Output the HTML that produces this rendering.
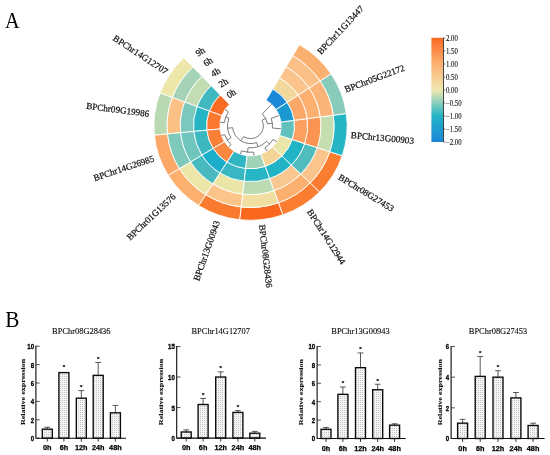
<!DOCTYPE html>
<html><head><meta charset="utf-8"><title>Figure</title><style>html,body{margin:0;padding:0;background:#fff}body{width:550px;height:455px;position:relative;overflow:hidden}</style></head><body>
<svg width="550" height="455" viewBox="0 0 550 455" style="position:absolute;left:0;top:0">
<defs><pattern id="dots" width="2" height="2" patternUnits="userSpaceOnUse"><rect width="2" height="2" fill="#f5f5f5"/><rect x="0" y="0" width="1" height="1" fill="#c2c2c2"/></pattern>
<linearGradient id="cb" x1="0" y1="0" x2="0" y2="1"><stop offset="0" stop-color="#FA6820"/><stop offset="0.25" stop-color="#FDB070"/><stop offset="0.5" stop-color="#F0E8B0"/><stop offset="0.75" stop-color="#22B4C6"/><stop offset="1" stop-color="#1B86D8"/></linearGradient></defs>
<rect width="550" height="455" fill="#fff"/>
<g stroke="#fff" stroke-width="0.9">
<path d="M183.90,57.69 A96.65,94.33 0 0 0 159.96,93.12 L172.33,97.61 A83.45,81.45 0 0 1 193.00,67.02 Z" fill="#EDE7A9"/>
<path d="M193.00,67.02 A83.45,81.45 0 0 0 172.33,97.61 L184.71,102.10 A70.25,68.56 0 0 1 202.10,76.35 Z" fill="#A5D3B8"/>
<path d="M202.10,76.35 A70.25,68.56 0 0 0 184.71,102.10 L197.08,106.59 A57.05,55.68 0 0 1 211.21,85.68 Z" fill="#C3DDB2"/>
<path d="M211.21,85.68 A57.05,55.68 0 0 0 197.08,106.59 L209.45,111.08 A43.85,42.80 0 0 1 220.31,95.01 Z" fill="#3FB8C0"/>
<path d="M220.31,95.01 A43.85,42.80 0 0 0 209.45,111.08 L221.82,115.57 A30.65,29.91 0 0 1 229.41,104.34 Z" fill="#F96B23"/>
<path d="M159.96,93.12 A96.65,94.33 0 0 0 154.36,135.21 L167.50,133.95 A83.45,81.45 0 0 1 172.33,97.61 Z" fill="#B9D9B3"/>
<path d="M172.33,97.61 A83.45,81.45 0 0 0 167.50,133.95 L180.64,132.69 A70.25,68.56 0 0 1 184.71,102.10 Z" fill="#FBC084"/>
<path d="M184.71,102.10 A70.25,68.56 0 0 0 180.64,132.69 L193.77,131.43 A57.05,55.68 0 0 1 197.08,106.59 Z" fill="#7CC8BC"/>
<path d="M197.08,106.59 A57.05,55.68 0 0 0 193.77,131.43 L206.91,130.18 A43.85,42.80 0 0 1 209.45,111.08 Z" fill="#25B5C5"/>
<path d="M209.45,111.08 A43.85,42.80 0 0 0 206.91,130.18 L220.05,128.92 A30.65,29.91 0 0 1 221.82,115.57 Z" fill="#FA7830"/>
<path d="M154.36,135.21 A96.65,94.33 0 0 0 168.23,175.43 L179.47,168.68 A83.45,81.45 0 0 1 167.50,133.95 Z" fill="#FBA868"/>
<path d="M167.50,133.95 A83.45,81.45 0 0 0 179.47,168.68 L190.72,161.93 A70.25,68.56 0 0 1 180.64,132.69 Z" fill="#7FC9BB"/>
<path d="M180.64,132.69 A70.25,68.56 0 0 0 190.72,161.93 L201.96,155.18 A57.05,55.68 0 0 1 193.77,131.43 Z" fill="#70C5BC"/>
<path d="M193.77,131.43 A57.05,55.68 0 0 0 201.96,155.18 L213.20,148.43 A43.85,42.80 0 0 1 206.91,130.18 Z" fill="#3DB8C1"/>
<path d="M206.91,130.18 A43.85,42.80 0 0 0 213.20,148.43 L224.44,141.67 A30.65,29.91 0 0 1 220.05,128.92 Z" fill="#FA8038"/>
<path d="M168.23,175.43 A96.65,94.33 0 0 0 198.76,205.65 L205.84,194.77 A83.45,81.45 0 0 1 179.47,168.68 Z" fill="#FBB070"/>
<path d="M179.47,168.68 A83.45,81.45 0 0 0 205.84,194.77 L212.91,183.89 A70.25,68.56 0 0 1 190.72,161.93 Z" fill="#ECE6A9"/>
<path d="M190.72,161.93 A70.25,68.56 0 0 0 212.91,183.89 L219.98,173.01 A57.05,55.68 0 0 1 201.96,155.18 Z" fill="#48BABF"/>
<path d="M201.96,155.18 A57.05,55.68 0 0 0 219.98,173.01 L227.05,162.14 A43.85,42.80 0 0 1 213.20,148.43 Z" fill="#1AAECB"/>
<path d="M213.20,148.43 A43.85,42.80 0 0 0 227.05,162.14 L234.13,151.26 A30.65,29.91 0 0 1 224.44,141.67 Z" fill="#FA8840"/>
<path d="M198.76,205.65 A96.65,94.33 0 0 0 239.78,219.74 L241.25,206.94 A83.45,81.45 0 0 1 205.84,194.77 Z" fill="#FA7A30"/>
<path d="M205.84,194.77 A83.45,81.45 0 0 0 241.25,206.94 L242.72,194.14 A70.25,68.56 0 0 1 212.91,183.89 Z" fill="#FBC488"/>
<path d="M212.91,183.89 A70.25,68.56 0 0 0 242.72,194.14 L244.19,181.33 A57.05,55.68 0 0 1 219.98,173.01 Z" fill="#EBE5A8"/>
<path d="M219.98,173.01 A57.05,55.68 0 0 0 244.19,181.33 L245.66,168.53 A43.85,42.80 0 0 1 227.05,162.14 Z" fill="#38B7C2"/>
<path d="M227.05,162.14 A43.85,42.80 0 0 0 245.66,168.53 L247.13,155.73 A30.65,29.91 0 0 1 234.13,151.26 Z" fill="#30B6C3"/>
<path d="M239.78,219.74 A96.65,94.33 0 0 0 282.97,214.86 L278.54,202.73 A83.45,81.45 0 0 1 241.25,206.94 Z" fill="#FA6820"/>
<path d="M241.25,206.94 A83.45,81.45 0 0 0 278.54,202.73 L274.12,190.59 A70.25,68.56 0 0 1 242.72,194.14 Z" fill="#F0DFA0"/>
<path d="M242.72,194.14 A70.25,68.56 0 0 0 274.12,190.59 L269.69,178.45 A57.05,55.68 0 0 1 244.19,181.33 Z" fill="#BDDBB2"/>
<path d="M244.19,181.33 A57.05,55.68 0 0 0 269.69,178.45 L265.26,166.32 A43.85,42.80 0 0 1 245.66,168.53 Z" fill="#28B5C4"/>
<path d="M245.66,168.53 A43.85,42.80 0 0 0 265.26,166.32 L260.83,154.18 A30.65,29.91 0 0 1 247.13,155.73 Z" fill="#A0D2B8"/>
<path d="M282.97,214.86 A96.65,94.33 0 0 0 319.60,192.00 L310.17,182.99 A83.45,81.45 0 0 1 278.54,202.73 Z" fill="#FA7D32"/>
<path d="M278.54,202.73 A83.45,81.45 0 0 0 310.17,182.99 L300.74,173.97 A70.25,68.56 0 0 1 274.12,190.59 Z" fill="#FBB070"/>
<path d="M274.12,190.59 A70.25,68.56 0 0 0 300.74,173.97 L291.31,164.96 A57.05,55.68 0 0 1 269.69,178.45 Z" fill="#F8C890"/>
<path d="M269.69,178.45 A57.05,55.68 0 0 0 291.31,164.96 L281.88,155.94 A43.85,42.80 0 0 1 265.26,166.32 Z" fill="#20B4C6"/>
<path d="M265.26,166.32 A43.85,42.80 0 0 0 281.88,155.94 L272.45,146.93 A30.65,29.91 0 0 1 260.83,154.18 Z" fill="#F5D498"/>
<path d="M319.60,192.00 A96.65,94.33 0 0 0 342.26,155.78 L329.73,151.71 A83.45,81.45 0 0 1 310.17,182.99 Z" fill="#FA7D32"/>
<path d="M310.17,182.99 A83.45,81.45 0 0 0 329.73,151.71 L317.21,147.64 A70.25,68.56 0 0 1 300.74,173.97 Z" fill="#FAC48C"/>
<path d="M300.74,173.97 A70.25,68.56 0 0 0 317.21,147.64 L304.68,143.58 A57.05,55.68 0 0 1 291.31,164.96 Z" fill="#50BCBE"/>
<path d="M291.31,164.96 A57.05,55.68 0 0 0 304.68,143.58 L292.16,139.51 A43.85,42.80 0 0 1 281.88,155.94 Z" fill="#20B4C6"/>
<path d="M281.88,155.94 A43.85,42.80 0 0 0 292.16,139.51 L279.63,135.44 A30.65,29.91 0 0 1 272.45,146.93 Z" fill="#EAE5A8"/>
<path d="M342.26,155.78 A96.65,94.33 0 0 0 346.35,113.52 L333.27,115.23 A83.45,81.45 0 0 1 329.73,151.71 Z" fill="#25B5C5"/>
<path d="M329.73,151.71 A83.45,81.45 0 0 0 333.27,115.23 L320.18,116.93 A70.25,68.56 0 0 1 317.21,147.64 Z" fill="#C5DEB0"/>
<path d="M317.21,147.64 A70.25,68.56 0 0 0 320.18,116.93 L307.10,118.64 A57.05,55.68 0 0 1 304.68,143.58 Z" fill="#FB9450"/>
<path d="M304.68,143.58 A57.05,55.68 0 0 0 307.10,118.64 L294.01,120.34 A43.85,42.80 0 0 1 292.16,139.51 Z" fill="#FBA060"/>
<path d="M292.16,139.51 A43.85,42.80 0 0 0 294.01,120.34 L280.93,122.04 A30.65,29.91 0 0 1 279.63,135.44 Z" fill="#60C0BD"/>
<path d="M346.35,113.52 A96.65,94.33 0 0 0 331.05,73.80 L320.06,80.93 A83.45,81.45 0 0 1 333.27,115.23 Z" fill="#88CBBA"/>
<path d="M333.27,115.23 A83.45,81.45 0 0 0 320.06,80.93 L309.06,88.06 A70.25,68.56 0 0 1 320.18,116.93 Z" fill="#FBB478"/>
<path d="M320.18,116.93 A70.25,68.56 0 0 0 309.06,88.06 L298.07,95.19 A57.05,55.68 0 0 1 307.10,118.64 Z" fill="#FBB070"/>
<path d="M307.10,118.64 A57.05,55.68 0 0 0 298.07,95.19 L287.07,102.32 A43.85,42.80 0 0 1 294.01,120.34 Z" fill="#FBA868"/>
<path d="M294.01,120.34 A43.85,42.80 0 0 0 287.07,102.32 L276.08,109.45 A30.65,29.91 0 0 1 280.93,122.04 Z" fill="#1A9AD0"/>
<path d="M331.05,73.80 A96.65,94.33 0 0 0 299.46,44.64 L292.78,55.75 A83.45,81.45 0 0 1 320.06,80.93 Z" fill="#FBB070"/>
<path d="M320.06,80.93 A83.45,81.45 0 0 0 292.78,55.75 L286.10,66.86 A70.25,68.56 0 0 1 309.06,88.06 Z" fill="#FAC088"/>
<path d="M309.06,88.06 A70.25,68.56 0 0 0 286.10,66.86 L279.42,77.97 A57.05,55.68 0 0 1 298.07,95.19 Z" fill="#FAC48C"/>
<path d="M298.07,95.19 A57.05,55.68 0 0 0 279.42,77.97 L272.74,89.09 A43.85,42.80 0 0 1 287.07,102.32 Z" fill="#F3D89C"/>
<path d="M287.07,102.32 A43.85,42.80 0 0 0 272.74,89.09 L266.06,100.20 A30.65,29.91 0 0 1 276.08,109.45 Z" fill="#1B88D8"/>
</g>
<g font-family="'Liberation Serif', serif" font-size="9.15" fill="#111" stroke="#111" stroke-width="0.22">
<text x="166.94" y="72.19" text-anchor="end" dominant-baseline="central" transform="rotate(33.40 166.94 72.19)">BPChr14G12707</text>
<text x="149.23" y="113.91" text-anchor="end" dominant-baseline="central" transform="rotate(7.40 149.23 113.91)">BPChr09G19986</text>
<text x="153.83" y="158.18" text-anchor="end" dominant-baseline="central" transform="rotate(-18.60 153.83 158.18)">BPChr14G26985</text>
<text x="174.24" y="195.13" text-anchor="end" dominant-baseline="central" transform="rotate(-43.40 174.24 195.13)">BPChr01G13576</text>
<text x="217.28" y="220.80" text-anchor="end" dominant-baseline="central" transform="rotate(-70.60 217.28 220.80)">BPChr13G00943</text>
<text x="262.06" y="224.70" text-anchor="start" dominant-baseline="central" transform="rotate(-276.60 262.06 224.70)">BPChr08G28436</text>
<text x="309.31" y="210.15" text-anchor="start" dominant-baseline="central" transform="rotate(-302.60 309.31 210.15)">BPChr14G12944</text>
<text x="339.03" y="176.33" text-anchor="start" dominant-baseline="central" transform="rotate(-328.60 339.03 176.33)">BPChr08G27453</text>
<text x="350.86" y="134.90" text-anchor="start" dominant-baseline="central" transform="rotate(-354.60 350.86 134.90)">BPChr13G00903</text>
<text x="345.00" y="89.81" text-anchor="start" dominant-baseline="central" transform="rotate(-380.60 345.00 89.81)">BPChr05G22172</text>
<text x="318.86" y="52.98" text-anchor="start" dominant-baseline="central" transform="rotate(-406.60 318.86 52.98)">BPChr11G13447</text>
</g>
<g font-family="'Liberation Serif', serif" font-size="9.2" fill="#111" stroke="#111" stroke-width="0.22">
<text x="200.2" y="51.8" text-anchor="middle" dominant-baseline="central" transform="rotate(-32 200.2 51.8)">9h</text>
<text x="208.0" y="61.8" text-anchor="middle" dominant-baseline="central" transform="rotate(-32 208.0 61.8)">6h</text>
<text x="215.6" y="72.3" text-anchor="middle" dominant-baseline="central" transform="rotate(-32 215.6 72.3)">4h</text>
<text x="223.4" y="82.8" text-anchor="middle" dominant-baseline="central" transform="rotate(-32 223.4 82.8)">2h</text>
<text x="231.2" y="93.4" text-anchor="middle" dominant-baseline="central" transform="rotate(-32 231.2 93.4)">0h</text>
</g>
<path d="M224.96,109.53 L228.43,111.76 M220.16,122.15 L224.27,122.67 M228.43,111.76 A26.50,25.86 0 0 0 224.27,122.67 M221.50,135.54 L224.58,134.53 M228.73,147.00 L231.04,144.78 M224.58,134.53 A27.40,26.74 0 0 0 231.04,144.78 M225.71,116.98 L228.99,118.18 M227.21,140.01 L230.96,137.76 M228.99,118.18 A23.00,22.45 0 0 0 230.96,137.76 M240.37,154.22 L241.58,150.86 M254.07,155.72 L253.65,152.18 M241.58,150.86 A27.00,26.35 0 0 0 253.65,152.18 M267.06,151.20 L264.83,147.79 M276.71,141.59 L273.17,139.48 M264.83,147.79 A26.50,25.86 0 0 0 273.17,139.48 M247.54,152.19 L248.05,147.73 M269.48,144.10 L266.55,141.30 M248.05,147.73 A22.40,21.86 0 0 0 266.55,141.30 M227.66,128.19 L232.64,127.71 M258.06,146.60 L256.59,142.55 M232.64,127.71 A18.00,17.57 0 0 0 256.59,142.55 M281.06,128.82 L272.45,128.02 M279.24,115.47 L271.14,118.45 M272.45,128.02 A22.00,21.47 0 0 0 271.14,118.45 M272.36,123.16 L267.40,123.81 M271.61,104.26 L262.23,113.94 M267.40,123.81 A17.00,16.59 0 0 0 262.23,113.94 M240.91,140.83 L243.64,136.63 M265.68,118.44 L262.03,120.26 M243.64,136.63 A12.90,12.59 0 0 0 262.03,120.26" fill="none" stroke="#444" stroke-width="0.7"/>
<rect x="431.4" y="37.8" width="12" height="104.2" fill="url(#cb)"/>
<path d="M443.5,37.8 V142" stroke="#333" stroke-width="0.9"/>
<g font-family="'Liberation Serif', serif" font-size="8.3" fill="#111" stroke="#111" stroke-width="0.12">
<path d="M443.5,38.00 h1.8" stroke="#333" stroke-width="0.7"/>
<text transform="translate(445.9 38.60) scale(0.82 1)" dominant-baseline="central">2.00</text>
<path d="M443.5,51.00 h1.8" stroke="#333" stroke-width="0.7"/>
<text transform="translate(445.9 51.60) scale(0.82 1)" dominant-baseline="central">1.50</text>
<path d="M443.5,64.00 h1.8" stroke="#333" stroke-width="0.7"/>
<text transform="translate(445.9 64.60) scale(0.82 1)" dominant-baseline="central">1.00</text>
<path d="M443.5,77.00 h1.8" stroke="#333" stroke-width="0.7"/>
<text transform="translate(445.9 77.60) scale(0.82 1)" dominant-baseline="central">0.50</text>
<path d="M443.5,90.00 h1.8" stroke="#333" stroke-width="0.7"/>
<text transform="translate(445.9 90.60) scale(0.82 1)" dominant-baseline="central">0.00</text>
<path d="M443.5,103.00 h1.8" stroke="#333" stroke-width="0.7"/>
<text transform="translate(445.9 103.60) scale(0.82 1)" dominant-baseline="central">−0.50</text>
<path d="M443.5,116.00 h1.8" stroke="#333" stroke-width="0.7"/>
<text transform="translate(445.9 116.60) scale(0.82 1)" dominant-baseline="central">−1.00</text>
<path d="M443.5,129.00 h1.8" stroke="#333" stroke-width="0.7"/>
<text transform="translate(445.9 129.60) scale(0.82 1)" dominant-baseline="central">−1.50</text>
<path d="M443.5,142.00 h1.8" stroke="#333" stroke-width="0.7"/>
<text transform="translate(445.9 142.60) scale(0.82 1)" dominant-baseline="central">−2.00</text>
</g>
<text transform="translate(5.0 28) scale(0.9 1)" font-family="'Liberation Serif', serif" font-size="22.5" fill="#000">A</text>
<text transform="translate(5.2 326.6) scale(0.925 1)" font-family="'Liberation Serif', serif" font-size="23" fill="#000">B</text>
<text transform="translate(81.3 334.1) scale(0.935 1)" text-anchor="middle" font-family="'Liberation Serif', serif" font-size="9" fill="#111" stroke="#111" stroke-width="0.15">BPChr08G28436</text>
<path d="M47.3,429.18 V427.25 M44.4,427.25 h5.8" stroke="#222" stroke-width="0.75" fill="none"/>
<rect x="42.30" y="429.18" width="10.0" height="9.02" fill="url(#dots)" stroke="#0a0a0a" stroke-width="1.35"/>
<rect x="58.90" y="372.60" width="10.0" height="65.60" fill="url(#dots)" stroke="#0a0a0a" stroke-width="1.35"/>
<text x="63.9" y="369.00" text-anchor="middle" font-family="'Liberation Sans', sans-serif" font-size="6.2" font-weight="bold" fill="#111" stroke="#111" stroke-width="0.25">*</text>
<path d="M81.3,398.18 V390.64 M78.39999999999999,390.64 h5.8" stroke="#222" stroke-width="0.75" fill="none"/>
<rect x="76.30" y="398.18" width="10.0" height="40.02" fill="url(#dots)" stroke="#0a0a0a" stroke-width="1.35"/>
<text x="81.3" y="389.04" text-anchor="middle" font-family="'Liberation Sans', sans-serif" font-size="6.2" font-weight="bold" fill="#111" stroke="#111" stroke-width="0.25">*</text>
<path d="M98.2,375.36 V362.48 M95.3,362.48 h5.8" stroke="#222" stroke-width="0.75" fill="none"/>
<rect x="93.20" y="375.36" width="10.0" height="62.84" fill="url(#dots)" stroke="#0a0a0a" stroke-width="1.35"/>
<text x="98.2" y="360.88" text-anchor="middle" font-family="'Liberation Sans', sans-serif" font-size="6.2" font-weight="bold" fill="#111" stroke="#111" stroke-width="0.25">*</text>
<path d="M115.4,412.81 V405.45 M112.5,405.45 h5.8" stroke="#222" stroke-width="0.75" fill="none"/>
<rect x="110.40" y="412.81" width="10.0" height="25.39" fill="url(#dots)" stroke="#0a0a0a" stroke-width="1.35"/>
<path d="M35.9,345.7 V438.2 H126" stroke="#0a0a0a" stroke-width="1.1" fill="none"/>
<path d="M35.9,438.20 h3.8" stroke="#222" stroke-width="0.8"/>
<text transform="translate(34.00 438.50) scale(0.88 1)" text-anchor="end" dominant-baseline="central" font-family="'Liberation Sans', sans-serif" font-size="6.9" font-weight="bold" fill="#000" stroke="#000" stroke-width="0.3">0</text>
<path d="M35.9,419.80 h3.8" stroke="#222" stroke-width="0.8"/>
<text transform="translate(34.00 420.10) scale(0.88 1)" text-anchor="end" dominant-baseline="central" font-family="'Liberation Sans', sans-serif" font-size="6.9" font-weight="bold" fill="#000" stroke="#000" stroke-width="0.3">2</text>
<path d="M35.9,401.40 h3.8" stroke="#222" stroke-width="0.8"/>
<text transform="translate(34.00 401.70) scale(0.88 1)" text-anchor="end" dominant-baseline="central" font-family="'Liberation Sans', sans-serif" font-size="6.9" font-weight="bold" fill="#000" stroke="#000" stroke-width="0.3">4</text>
<path d="M35.9,383.00 h3.8" stroke="#222" stroke-width="0.8"/>
<text transform="translate(34.00 383.30) scale(0.88 1)" text-anchor="end" dominant-baseline="central" font-family="'Liberation Sans', sans-serif" font-size="6.9" font-weight="bold" fill="#000" stroke="#000" stroke-width="0.3">6</text>
<path d="M35.9,364.60 h3.8" stroke="#222" stroke-width="0.8"/>
<text transform="translate(34.00 364.90) scale(0.88 1)" text-anchor="end" dominant-baseline="central" font-family="'Liberation Sans', sans-serif" font-size="6.9" font-weight="bold" fill="#000" stroke="#000" stroke-width="0.3">8</text>
<path d="M35.9,346.20 h3.8" stroke="#222" stroke-width="0.8"/>
<text transform="translate(34.00 346.50) scale(0.88 1)" text-anchor="end" dominant-baseline="central" font-family="'Liberation Sans', sans-serif" font-size="6.9" font-weight="bold" fill="#000" stroke="#000" stroke-width="0.3">10</text>
<path d="M47.3,438.2 v3.4" stroke="#222" stroke-width="0.9"/>
<text x="47.3" y="450.20" text-anchor="middle" font-family="'Liberation Sans', sans-serif" font-size="7.3" font-weight="bold" fill="#000" stroke="#000" stroke-width="0.25">0h</text>
<path d="M63.9,438.2 v3.4" stroke="#222" stroke-width="0.9"/>
<text x="63.9" y="450.20" text-anchor="middle" font-family="'Liberation Sans', sans-serif" font-size="7.3" font-weight="bold" fill="#000" stroke="#000" stroke-width="0.25">6h</text>
<path d="M81.3,438.2 v3.4" stroke="#222" stroke-width="0.9"/>
<text x="81.3" y="450.20" text-anchor="middle" font-family="'Liberation Sans', sans-serif" font-size="7.3" font-weight="bold" fill="#000" stroke="#000" stroke-width="0.25">12h</text>
<path d="M98.2,438.2 v3.4" stroke="#222" stroke-width="0.9"/>
<text x="98.2" y="450.20" text-anchor="middle" font-family="'Liberation Sans', sans-serif" font-size="7.3" font-weight="bold" fill="#000" stroke="#000" stroke-width="0.25">24h</text>
<path d="M115.4,438.2 v3.4" stroke="#222" stroke-width="0.9"/>
<text x="115.4" y="450.20" text-anchor="middle" font-family="'Liberation Sans', sans-serif" font-size="7.3" font-weight="bold" fill="#000" stroke="#000" stroke-width="0.25">48h</text>
<text transform="translate(22.3 391.9) rotate(-90) scale(1.13 1)" text-anchor="middle" dominant-baseline="central" font-family="'Liberation Serif', serif" font-size="7.15" font-weight="bold" fill="#111" stroke="#111" stroke-width="0.1">Relative expression</text>
<text transform="translate(220.7 334.1) scale(0.935 1)" text-anchor="middle" font-family="'Liberation Serif', serif" font-size="9" fill="#111" stroke="#111" stroke-width="0.15">BPChr14G12707</text>
<path d="M186.2,431.99 V429.86 M183.29999999999998,429.86 h5.8" stroke="#222" stroke-width="0.75" fill="none"/>
<rect x="181.20" y="431.99" width="10.0" height="6.11" fill="url(#dots)" stroke="#0a0a0a" stroke-width="1.35"/>
<path d="M203.1,404.51 V398.41 M200.2,398.41 h5.8" stroke="#222" stroke-width="0.75" fill="none"/>
<rect x="198.10" y="404.51" width="10.0" height="33.59" fill="url(#dots)" stroke="#0a0a0a" stroke-width="1.35"/>
<text x="203.1" y="396.81" text-anchor="middle" font-family="'Liberation Sans', sans-serif" font-size="6.2" font-weight="bold" fill="#111" stroke="#111" stroke-width="0.25">*</text>
<path d="M220.7,377.03 V371.84 M217.79999999999998,371.84 h5.8" stroke="#222" stroke-width="0.75" fill="none"/>
<rect x="215.70" y="377.03" width="10.0" height="61.07" fill="url(#dots)" stroke="#0a0a0a" stroke-width="1.35"/>
<text x="220.7" y="370.24" text-anchor="middle" font-family="'Liberation Sans', sans-serif" font-size="6.2" font-weight="bold" fill="#111" stroke="#111" stroke-width="0.25">*</text>
<path d="M237.9,412.45 V410.62 M235.0,410.62 h5.8" stroke="#222" stroke-width="0.75" fill="none"/>
<rect x="232.90" y="412.45" width="10.0" height="25.65" fill="url(#dots)" stroke="#0a0a0a" stroke-width="1.35"/>
<text x="237.9" y="409.02" text-anchor="middle" font-family="'Liberation Sans', sans-serif" font-size="6.2" font-weight="bold" fill="#111" stroke="#111" stroke-width="0.25">*</text>
<path d="M254.8,433.21 V431.38 M251.9,431.38 h5.8" stroke="#222" stroke-width="0.75" fill="none"/>
<rect x="249.80" y="433.21" width="10.0" height="4.89" fill="url(#dots)" stroke="#0a0a0a" stroke-width="1.35"/>
<path d="M176.7,346.0 V438.1 H266" stroke="#0a0a0a" stroke-width="1.1" fill="none"/>
<path d="M176.7,438.10 h3.8" stroke="#222" stroke-width="0.8"/>
<text transform="translate(174.80 438.40) scale(0.88 1)" text-anchor="end" dominant-baseline="central" font-family="'Liberation Sans', sans-serif" font-size="6.9" font-weight="bold" fill="#000" stroke="#000" stroke-width="0.3">0</text>
<path d="M176.7,407.57 h3.8" stroke="#222" stroke-width="0.8"/>
<text transform="translate(174.80 407.87) scale(0.88 1)" text-anchor="end" dominant-baseline="central" font-family="'Liberation Sans', sans-serif" font-size="6.9" font-weight="bold" fill="#000" stroke="#000" stroke-width="0.3">5</text>
<path d="M176.7,377.03 h3.8" stroke="#222" stroke-width="0.8"/>
<text transform="translate(174.80 377.33) scale(0.88 1)" text-anchor="end" dominant-baseline="central" font-family="'Liberation Sans', sans-serif" font-size="6.9" font-weight="bold" fill="#000" stroke="#000" stroke-width="0.3">10</text>
<path d="M176.7,346.50 h3.8" stroke="#222" stroke-width="0.8"/>
<text transform="translate(174.80 346.80) scale(0.88 1)" text-anchor="end" dominant-baseline="central" font-family="'Liberation Sans', sans-serif" font-size="6.9" font-weight="bold" fill="#000" stroke="#000" stroke-width="0.3">15</text>
<path d="M186.2,438.1 v3.4" stroke="#222" stroke-width="0.9"/>
<text x="186.2" y="450.10" text-anchor="middle" font-family="'Liberation Sans', sans-serif" font-size="7.3" font-weight="bold" fill="#000" stroke="#000" stroke-width="0.25">0h</text>
<path d="M203.1,438.1 v3.4" stroke="#222" stroke-width="0.9"/>
<text x="203.1" y="450.10" text-anchor="middle" font-family="'Liberation Sans', sans-serif" font-size="7.3" font-weight="bold" fill="#000" stroke="#000" stroke-width="0.25">6h</text>
<path d="M220.7,438.1 v3.4" stroke="#222" stroke-width="0.9"/>
<text x="220.7" y="450.10" text-anchor="middle" font-family="'Liberation Sans', sans-serif" font-size="7.3" font-weight="bold" fill="#000" stroke="#000" stroke-width="0.25">12h</text>
<path d="M237.9,438.1 v3.4" stroke="#222" stroke-width="0.9"/>
<text x="237.9" y="450.10" text-anchor="middle" font-family="'Liberation Sans', sans-serif" font-size="7.3" font-weight="bold" fill="#000" stroke="#000" stroke-width="0.25">24h</text>
<path d="M254.8,438.1 v3.4" stroke="#222" stroke-width="0.9"/>
<text x="254.8" y="450.10" text-anchor="middle" font-family="'Liberation Sans', sans-serif" font-size="7.3" font-weight="bold" fill="#000" stroke="#000" stroke-width="0.25">48h</text>
<text transform="translate(160.2 392.0) rotate(-90) scale(1.13 1)" text-anchor="middle" dominant-baseline="central" font-family="'Liberation Serif', serif" font-size="7.15" font-weight="bold" fill="#111" stroke="#111" stroke-width="0.1">Relative expression</text>
<text transform="translate(360.5 334.1) scale(0.935 1)" text-anchor="middle" font-family="'Liberation Serif', serif" font-size="9" fill="#111" stroke="#111" stroke-width="0.15">BPChr13G00943</text>
<path d="M326,429.30 V427.46 M323.1,427.46 h5.8" stroke="#222" stroke-width="0.75" fill="none"/>
<rect x="321.00" y="429.30" width="10.0" height="9.20" fill="url(#dots)" stroke="#0a0a0a" stroke-width="1.35"/>
<path d="M342.9,394.34 V386.98 M340.0,386.98 h5.8" stroke="#222" stroke-width="0.75" fill="none"/>
<rect x="337.90" y="394.34" width="10.0" height="44.16" fill="url(#dots)" stroke="#0a0a0a" stroke-width="1.35"/>
<text x="342.9" y="385.38" text-anchor="middle" font-family="'Liberation Sans', sans-serif" font-size="6.2" font-weight="bold" fill="#111" stroke="#111" stroke-width="0.25">*</text>
<path d="M360.5,367.66 V352.94 M357.6,352.94 h5.8" stroke="#222" stroke-width="0.75" fill="none"/>
<rect x="355.50" y="367.66" width="10.0" height="70.84" fill="url(#dots)" stroke="#0a0a0a" stroke-width="1.35"/>
<text x="360.5" y="351.34" text-anchor="middle" font-family="'Liberation Sans', sans-serif" font-size="6.2" font-weight="bold" fill="#111" stroke="#111" stroke-width="0.25">*</text>
<path d="M377.7,389.74 V384.22 M374.8,384.22 h5.8" stroke="#222" stroke-width="0.75" fill="none"/>
<rect x="372.70" y="389.74" width="10.0" height="48.76" fill="url(#dots)" stroke="#0a0a0a" stroke-width="1.35"/>
<text x="377.7" y="382.62" text-anchor="middle" font-family="'Liberation Sans', sans-serif" font-size="6.2" font-weight="bold" fill="#111" stroke="#111" stroke-width="0.25">*</text>
<path d="M394.6,425.16 V423.78 M391.70000000000005,423.78 h5.8" stroke="#222" stroke-width="0.75" fill="none"/>
<rect x="389.60" y="425.16" width="10.0" height="13.34" fill="url(#dots)" stroke="#0a0a0a" stroke-width="1.35"/>
<path d="M317.1,346.0 V438.5 H405.7" stroke="#0a0a0a" stroke-width="1.1" fill="none"/>
<path d="M317.1,438.50 h3.8" stroke="#222" stroke-width="0.8"/>
<text transform="translate(315.20 438.80) scale(0.88 1)" text-anchor="end" dominant-baseline="central" font-family="'Liberation Sans', sans-serif" font-size="6.9" font-weight="bold" fill="#000" stroke="#000" stroke-width="0.3">0</text>
<path d="M317.1,420.10 h3.8" stroke="#222" stroke-width="0.8"/>
<text transform="translate(315.20 420.40) scale(0.88 1)" text-anchor="end" dominant-baseline="central" font-family="'Liberation Sans', sans-serif" font-size="6.9" font-weight="bold" fill="#000" stroke="#000" stroke-width="0.3">2</text>
<path d="M317.1,401.70 h3.8" stroke="#222" stroke-width="0.8"/>
<text transform="translate(315.20 402.00) scale(0.88 1)" text-anchor="end" dominant-baseline="central" font-family="'Liberation Sans', sans-serif" font-size="6.9" font-weight="bold" fill="#000" stroke="#000" stroke-width="0.3">4</text>
<path d="M317.1,383.30 h3.8" stroke="#222" stroke-width="0.8"/>
<text transform="translate(315.20 383.60) scale(0.88 1)" text-anchor="end" dominant-baseline="central" font-family="'Liberation Sans', sans-serif" font-size="6.9" font-weight="bold" fill="#000" stroke="#000" stroke-width="0.3">6</text>
<path d="M317.1,364.90 h3.8" stroke="#222" stroke-width="0.8"/>
<text transform="translate(315.20 365.20) scale(0.88 1)" text-anchor="end" dominant-baseline="central" font-family="'Liberation Sans', sans-serif" font-size="6.9" font-weight="bold" fill="#000" stroke="#000" stroke-width="0.3">8</text>
<path d="M317.1,346.50 h3.8" stroke="#222" stroke-width="0.8"/>
<text transform="translate(315.20 346.80) scale(0.88 1)" text-anchor="end" dominant-baseline="central" font-family="'Liberation Sans', sans-serif" font-size="6.9" font-weight="bold" fill="#000" stroke="#000" stroke-width="0.3">10</text>
<path d="M326,438.5 v3.4" stroke="#222" stroke-width="0.9"/>
<text x="326" y="450.50" text-anchor="middle" font-family="'Liberation Sans', sans-serif" font-size="7.3" font-weight="bold" fill="#000" stroke="#000" stroke-width="0.25">0h</text>
<path d="M342.9,438.5 v3.4" stroke="#222" stroke-width="0.9"/>
<text x="342.9" y="450.50" text-anchor="middle" font-family="'Liberation Sans', sans-serif" font-size="7.3" font-weight="bold" fill="#000" stroke="#000" stroke-width="0.25">6h</text>
<path d="M360.5,438.5 v3.4" stroke="#222" stroke-width="0.9"/>
<text x="360.5" y="450.50" text-anchor="middle" font-family="'Liberation Sans', sans-serif" font-size="7.3" font-weight="bold" fill="#000" stroke="#000" stroke-width="0.25">12h</text>
<path d="M377.7,438.5 v3.4" stroke="#222" stroke-width="0.9"/>
<text x="377.7" y="450.50" text-anchor="middle" font-family="'Liberation Sans', sans-serif" font-size="7.3" font-weight="bold" fill="#000" stroke="#000" stroke-width="0.25">24h</text>
<path d="M394.6,438.5 v3.4" stroke="#222" stroke-width="0.9"/>
<text x="394.6" y="450.50" text-anchor="middle" font-family="'Liberation Sans', sans-serif" font-size="7.3" font-weight="bold" fill="#000" stroke="#000" stroke-width="0.25">48h</text>
<text transform="translate(300.2 392.2) rotate(-90) scale(1.13 1)" text-anchor="middle" dominant-baseline="central" font-family="'Liberation Serif', serif" font-size="7.15" font-weight="bold" fill="#111" stroke="#111" stroke-width="0.1">Relative expression</text>
<text transform="translate(498 334.1) scale(0.935 1)" text-anchor="middle" font-family="'Liberation Serif', serif" font-size="9" fill="#111" stroke="#111" stroke-width="0.15">BPChr08G27453</text>
<path d="M462.6,423.17 V419.33 M459.70000000000005,419.33 h5.8" stroke="#222" stroke-width="0.75" fill="none"/>
<rect x="457.60" y="423.17" width="10.0" height="15.33" fill="url(#dots)" stroke="#0a0a0a" stroke-width="1.35"/>
<path d="M480.2,376.40 V356.47 M477.3,356.47 h5.8" stroke="#222" stroke-width="0.75" fill="none"/>
<rect x="475.20" y="376.40" width="10.0" height="62.10" fill="url(#dots)" stroke="#0a0a0a" stroke-width="1.35"/>
<text x="480.2" y="354.87" text-anchor="middle" font-family="'Liberation Sans', sans-serif" font-size="6.2" font-weight="bold" fill="#111" stroke="#111" stroke-width="0.25">*</text>
<path d="M498,377.17 V370.73 M495.1,370.73 h5.8" stroke="#222" stroke-width="0.75" fill="none"/>
<rect x="493.00" y="377.17" width="10.0" height="61.33" fill="url(#dots)" stroke="#0a0a0a" stroke-width="1.35"/>
<text x="498" y="369.13" text-anchor="middle" font-family="'Liberation Sans', sans-serif" font-size="6.2" font-weight="bold" fill="#111" stroke="#111" stroke-width="0.25">*</text>
<path d="M515.9,397.87 V392.50 M513.0,392.50 h5.8" stroke="#222" stroke-width="0.75" fill="none"/>
<rect x="510.90" y="397.87" width="10.0" height="40.63" fill="url(#dots)" stroke="#0a0a0a" stroke-width="1.35"/>
<path d="M533.1,425.47 V423.17 M530.2,423.17 h5.8" stroke="#222" stroke-width="0.75" fill="none"/>
<rect x="528.10" y="425.47" width="10.0" height="13.03" fill="url(#dots)" stroke="#0a0a0a" stroke-width="1.35"/>
<path d="M451.1,346.0 V438.5 H544.6" stroke="#0a0a0a" stroke-width="1.1" fill="none"/>
<path d="M451.1,438.50 h3.8" stroke="#222" stroke-width="0.8"/>
<text transform="translate(449.20 438.80) scale(0.88 1)" text-anchor="end" dominant-baseline="central" font-family="'Liberation Sans', sans-serif" font-size="6.9" font-weight="bold" fill="#000" stroke="#000" stroke-width="0.3">0</text>
<path d="M451.1,407.83 h3.8" stroke="#222" stroke-width="0.8"/>
<text transform="translate(449.20 408.13) scale(0.88 1)" text-anchor="end" dominant-baseline="central" font-family="'Liberation Sans', sans-serif" font-size="6.9" font-weight="bold" fill="#000" stroke="#000" stroke-width="0.3">2</text>
<path d="M451.1,377.17 h3.8" stroke="#222" stroke-width="0.8"/>
<text transform="translate(449.20 377.47) scale(0.88 1)" text-anchor="end" dominant-baseline="central" font-family="'Liberation Sans', sans-serif" font-size="6.9" font-weight="bold" fill="#000" stroke="#000" stroke-width="0.3">4</text>
<path d="M451.1,346.50 h3.8" stroke="#222" stroke-width="0.8"/>
<text transform="translate(449.20 346.80) scale(0.88 1)" text-anchor="end" dominant-baseline="central" font-family="'Liberation Sans', sans-serif" font-size="6.9" font-weight="bold" fill="#000" stroke="#000" stroke-width="0.3">6</text>
<path d="M462.6,438.5 v3.4" stroke="#222" stroke-width="0.9"/>
<text x="462.6" y="450.50" text-anchor="middle" font-family="'Liberation Sans', sans-serif" font-size="7.3" font-weight="bold" fill="#000" stroke="#000" stroke-width="0.25">0h</text>
<path d="M480.2,438.5 v3.4" stroke="#222" stroke-width="0.9"/>
<text x="480.2" y="450.50" text-anchor="middle" font-family="'Liberation Sans', sans-serif" font-size="7.3" font-weight="bold" fill="#000" stroke="#000" stroke-width="0.25">6h</text>
<path d="M498,438.5 v3.4" stroke="#222" stroke-width="0.9"/>
<text x="498" y="450.50" text-anchor="middle" font-family="'Liberation Sans', sans-serif" font-size="7.3" font-weight="bold" fill="#000" stroke="#000" stroke-width="0.25">12h</text>
<path d="M515.9,438.5 v3.4" stroke="#222" stroke-width="0.9"/>
<text x="515.9" y="450.50" text-anchor="middle" font-family="'Liberation Sans', sans-serif" font-size="7.3" font-weight="bold" fill="#000" stroke="#000" stroke-width="0.25">24h</text>
<path d="M533.1,438.5 v3.4" stroke="#222" stroke-width="0.9"/>
<text x="533.1" y="450.50" text-anchor="middle" font-family="'Liberation Sans', sans-serif" font-size="7.3" font-weight="bold" fill="#000" stroke="#000" stroke-width="0.25">48h</text>
<text transform="translate(439.2 392.2) rotate(-90) scale(1.13 1)" text-anchor="middle" dominant-baseline="central" font-family="'Liberation Serif', serif" font-size="7.15" font-weight="bold" fill="#111" stroke="#111" stroke-width="0.1">Relative expression</text>
</svg>
</body></html>
